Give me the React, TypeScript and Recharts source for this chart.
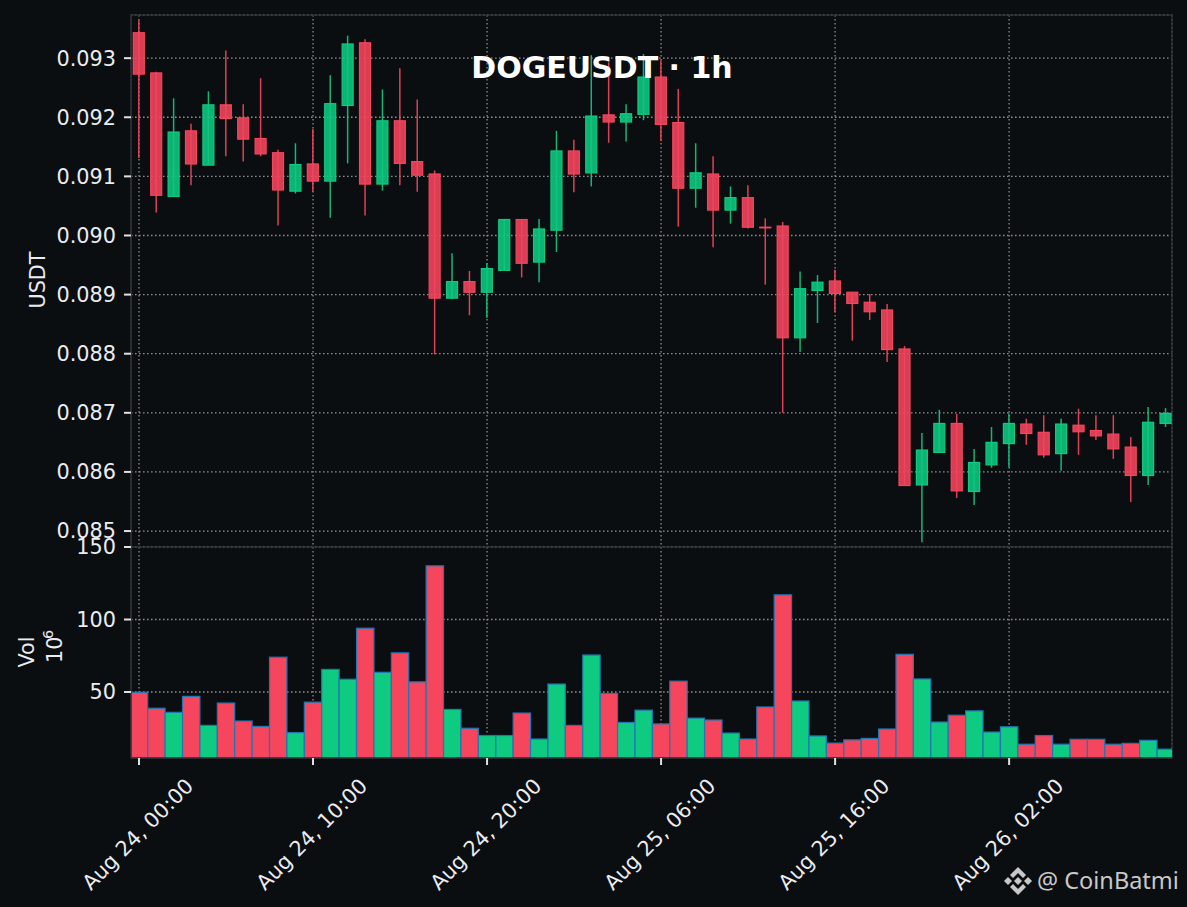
import React from "react";
import { ComposedChart, Bar, XAxis, YAxis, CartesianGrid, ReferenceArea } from "recharts";

const opens = [.09343,.09275,.09066,.09177,.09119,.09221,.09199,.09164,.09140,.09075,.09121,.09092,.09220,.09326,.09087,.09194,.09125,.09104,.08894,.08922,.08904,.08941,.09027,.08955,.09009,.09143,.09106,.09204,.09192,.09205,.09268,.09191,.09080,.09104,.09043,.09064,.09014,.09016,.08827,.08907,.08923,.08904,.08887,.08874,.08808,.08578,.08633,.08682,.08567,.08612,.08648,.08681,.08667,.08631,.08679,.08670,.08664,.08642,.08594,.08682];
const highs = [.09364,.09277,.09232,.09189,.09244,.09313,.09222,.09266,.09145,.09156,.09180,.09271,.09338,.09332,.09247,.09283,.09230,.09110,.08970,.08940,.08953,.09028,.09027,.09028,.09177,.09162,.09305,.09293,.09222,.09307,.09296,.09248,.09156,.09134,.09083,.09085,.09029,.09023,.08939,.08933,.08942,.08904,.08901,.08884,.08813,.08666,.08705,.08698,.08639,.08676,.08699,.08690,.08696,.08690,.08707,.08696,.08696,.08659,.08710,.08708];
const lows = [.09131,.09039,.09065,.09085,.09119,.09134,.09125,.09134,.09017,.09071,.09074,.09030,.09122,.09034,.09076,.09085,.09074,.08799,.08892,.08865,.08861,.08941,.08929,.08921,.08972,.09073,.09083,.09157,.09159,.09195,.09160,.09015,.09047,.08980,.09020,.09012,.08917,.08700,.08803,.08852,.08870,.08822,.08857,.08786,.08577,.08481,.08633,.08556,.08544,.08607,.08608,.08646,.08624,.08602,.08629,.08654,.08622,.08549,.08578,.08676];
const closes = [.09273,.09068,.09175,.09121,.09221,.09198,.09163,.09138,.09077,.09120,.09092,.09223,.09324,.09087,.09194,.09122,.09102,.08894,.08922,.08904,.08944,.09027,.08953,.09011,.09143,.09104,.09202,.09192,.09206,.09268,.09188,.09080,.09106,.09043,.09064,.09014,.09013,.08827,.08910,.08921,.08902,.08885,.08871,.08807,.08577,.08637,.08682,.08568,.08616,.08650,.08682,.08665,.08629,.08681,.08668,.08661,.08639,.08594,.08684,.08699];
const volumes = [49.8,38.8,36,47,27,42.4,30,26.3,74,22,43,65.6,58.8,94,63.6,77,57,137,38,25,20,20,35.5,17.6,55.5,27,75.5,49,29,37.5,28,57.5,32,30.7,21.7,17.6,39.7,117,43.8,19.7,14.8,17,18,24.5,76,59,29.3,34,37,22.4,26,14,20,14,17.4,17.4,14,14.6,16.7,10.6];
const xTickValues = [0, 10, 20, 30, 40, 50];
const xTickLabels = ["Aug 24, 00:00", "Aug 24, 10:00", "Aug 24, 20:00", "Aug 25, 06:00", "Aug 25, 16:00", "Aug 26, 02:00"];
const priceTicks = [0.085, 0.086, 0.087, 0.088, 0.089, 0.09, 0.091, 0.092, 0.093];
const volumeTicks = [50, 100, 150];

const rows = opens.map((open, i) => ({ i, open, high: highs[i], low: lows[i], close: closes[i], volume: volumes[i] }));

const BG = "#0b0e11";
const RED = "#F6465D";
const GREEN = "#0ECB81";
const TEXT = "#eaecef";
const SPINE = "#2a2e33";
const GRID = "#8c8c8c";
const DASH = "1.6 2.4";
const FONT = "'DejaVu Sans', sans-serif";
const FS = 20.8;
const X_DOMAIN: [number, number] = [-0.46, 59.36];
const PRICE_DOMAIN: [number, number] = [0.08473, 0.09373];
const VOL_DOMAIN: [number, number] = [4.5, 150];

function Candle(props: any) {
  const { x, y, width, height, payload } = props;
  const { open, high, low, close } = payload;
  const px = (v: number) => y + ((high - v) * height) / (high - low);
  const color = close >= open ? GREEN : RED;
  const cx = x + width / 2;
  const top = px(Math.max(open, close));
  const bottom = px(Math.min(open, close));
  return (
    <g>
      <line x1={cx} x2={cx} y1={y} y2={y + height} stroke={color} strokeOpacity={0.9} strokeWidth={1.5} />
      <rect x={x} y={top} width={width} height={Math.max(bottom - top, 0.5)} fill={BG} fillOpacity={0.15} />
      <rect x={x} y={top} width={width} height={Math.max(bottom - top, 0.5)} fill={color} fillOpacity={0.88} stroke={color} strokeWidth={1.2} />
    </g>
  );
}

function VolumeBar(props: any) {
  const { x, y, width, height, payload } = props;
  return (
    <rect x={x} y={y} width={width} height={height}
      fill={payload.close >= payload.open ? GREEN : RED} stroke="#1f77b4" strokeWidth={1.2} />
  );
}

function DateTick(props: any) {
  const { x, y, payload } = props;
  const cx = x - 1.5;
  const cy = y + 67;
  return (
    <text x={cx} y={cy} dy="0.36em" fill={TEXT} fontSize={FS} fontFamily={FONT} textAnchor="middle"
      transform={`rotate(-45 ${cx} ${cy})`}>
      {xTickLabels[xTickValues.indexOf(payload.value)]}
    </text>
  );
}

const yTickStyle = { fill: TEXT, fontSize: FS, fontFamily: FONT };
const tickLineStyle = { stroke: "#e0e0e0", strokeWidth: 2 };

export default function App() {
  return (
    <div style={{ position: "absolute", left: 0, top: 0, width: 1187, height: 907, background: BG, overflow: "hidden" }}>
      <div style={{ position: "absolute", left: 0, top: 0 }}>
        <ComposedChart width={1187} height={547} data={rows} margin={{ top: 15, right: 15, bottom: 0, left: 0 }}>
          <CartesianGrid stroke={GRID} strokeWidth={1.3} strokeDasharray={DASH} />
          <XAxis dataKey="i" type="number" scale="linear" domain={X_DOMAIN} ticks={xTickValues} allowDataOverflow hide height={0} />
          <YAxis type="number" domain={PRICE_DOMAIN} ticks={priceTicks} allowDataOverflow width={131}
            tick={yTickStyle} tickSize={7} tickMargin={8} tickLine={tickLineStyle}
            axisLine={{ stroke: SPINE, strokeWidth: 1.5 }} tickFormatter={(v: number) => v.toFixed(3)} interval={0} />
          <ReferenceArea x1={X_DOMAIN[0]} x2={X_DOMAIN[1]} y1={PRICE_DOMAIN[0]} y2={PRICE_DOMAIN[1]} fill="none" stroke={SPINE} strokeWidth={1.5} ifOverflow="extendDomain" />
          <Bar dataKey={(d: any) => [d.low, d.high]} barSize={11} shape={Candle} isAnimationActive={false} />
        </ComposedChart>
      </div>
      <div style={{ position: "absolute", left: 0, top: 527 }}>
        <ComposedChart width={1187} height={380} data={rows} margin={{ top: 20, right: 15, bottom: 0, left: 0 }}>
          <CartesianGrid stroke={GRID} strokeWidth={1.3} strokeDasharray={DASH} />
          <XAxis dataKey="i" type="number" scale="linear" domain={X_DOMAIN} ticks={xTickValues} allowDataOverflow height={149} interval={0}
            tick={<DateTick />} tickSize={7} tickLine={tickLineStyle} axisLine={{ stroke: SPINE, strokeWidth: 1.5 }} />
          <YAxis type="number" domain={VOL_DOMAIN} ticks={volumeTicks} allowDataOverflow width={131}
            tick={yTickStyle} tickSize={7} tickMargin={8} tickLine={tickLineStyle}
            axisLine={{ stroke: SPINE, strokeWidth: 1.5 }} interval={0} />
          <ReferenceArea x1={X_DOMAIN[0]} x2={X_DOMAIN[1]} y1={VOL_DOMAIN[0]} y2={VOL_DOMAIN[1]} fill="none" stroke={SPINE} strokeWidth={1.5} ifOverflow="extendDomain" />
          <Bar dataKey="volume" barSize={17.4} shape={VolumeBar} isAnimationActive={false} />
        </ComposedChart>
      </div>
      <svg width={1187} height={907} style={{ position: "absolute", left: 0, top: 0, pointerEvents: "none" }}>
        <text x={602} y={78} textAnchor="middle" fill="#ffffff" fontSize={30} fontWeight="bold" fontFamily={FONT}>DOGEUSDT · 1h</text>
        <text x={45} y={280} textAnchor="middle" fill={TEXT} fontSize={FS} fontFamily={FONT} transform="rotate(-90 45 280)">USDT</text>
        <text x={34} y={667.5} textAnchor="start" fill={TEXT} fontSize={FS} fontFamily={FONT} transform="rotate(-90 34 667.5)">Vol</text>
        <text x={61.5} y={663} textAnchor="start" fill={TEXT} fontSize={FS} fontFamily={FONT} transform="rotate(-90 61.5 663)">10</text>
        <text x={53} y={639} textAnchor="start" fill={TEXT} fontSize={14.5} fontFamily={FONT} transform="rotate(-90 53 639)">6</text>
        <g fill="#c8c8c8">
          <polygon points="1018,867 1026,875 1023,878 1018,873 1013,878 1010,875" />
          <polygon points="1018,895 1026,887 1023,884 1018,889 1013,884 1010,887" />
          <polygon points="1004,881 1008,877 1012,881 1008,885" />
          <polygon points="1032,881 1028,877 1024,881 1028,885" />
          <polygon points="1018,877 1022,881 1018,885 1014,881" />
        </g>
        <text x={1037} y={889} fill="#c8c8c8" fontSize={23.5} fontFamily="'Noto Sans', sans-serif">@ CoinBatmi</text>
      </svg>
    </div>
  );
}
